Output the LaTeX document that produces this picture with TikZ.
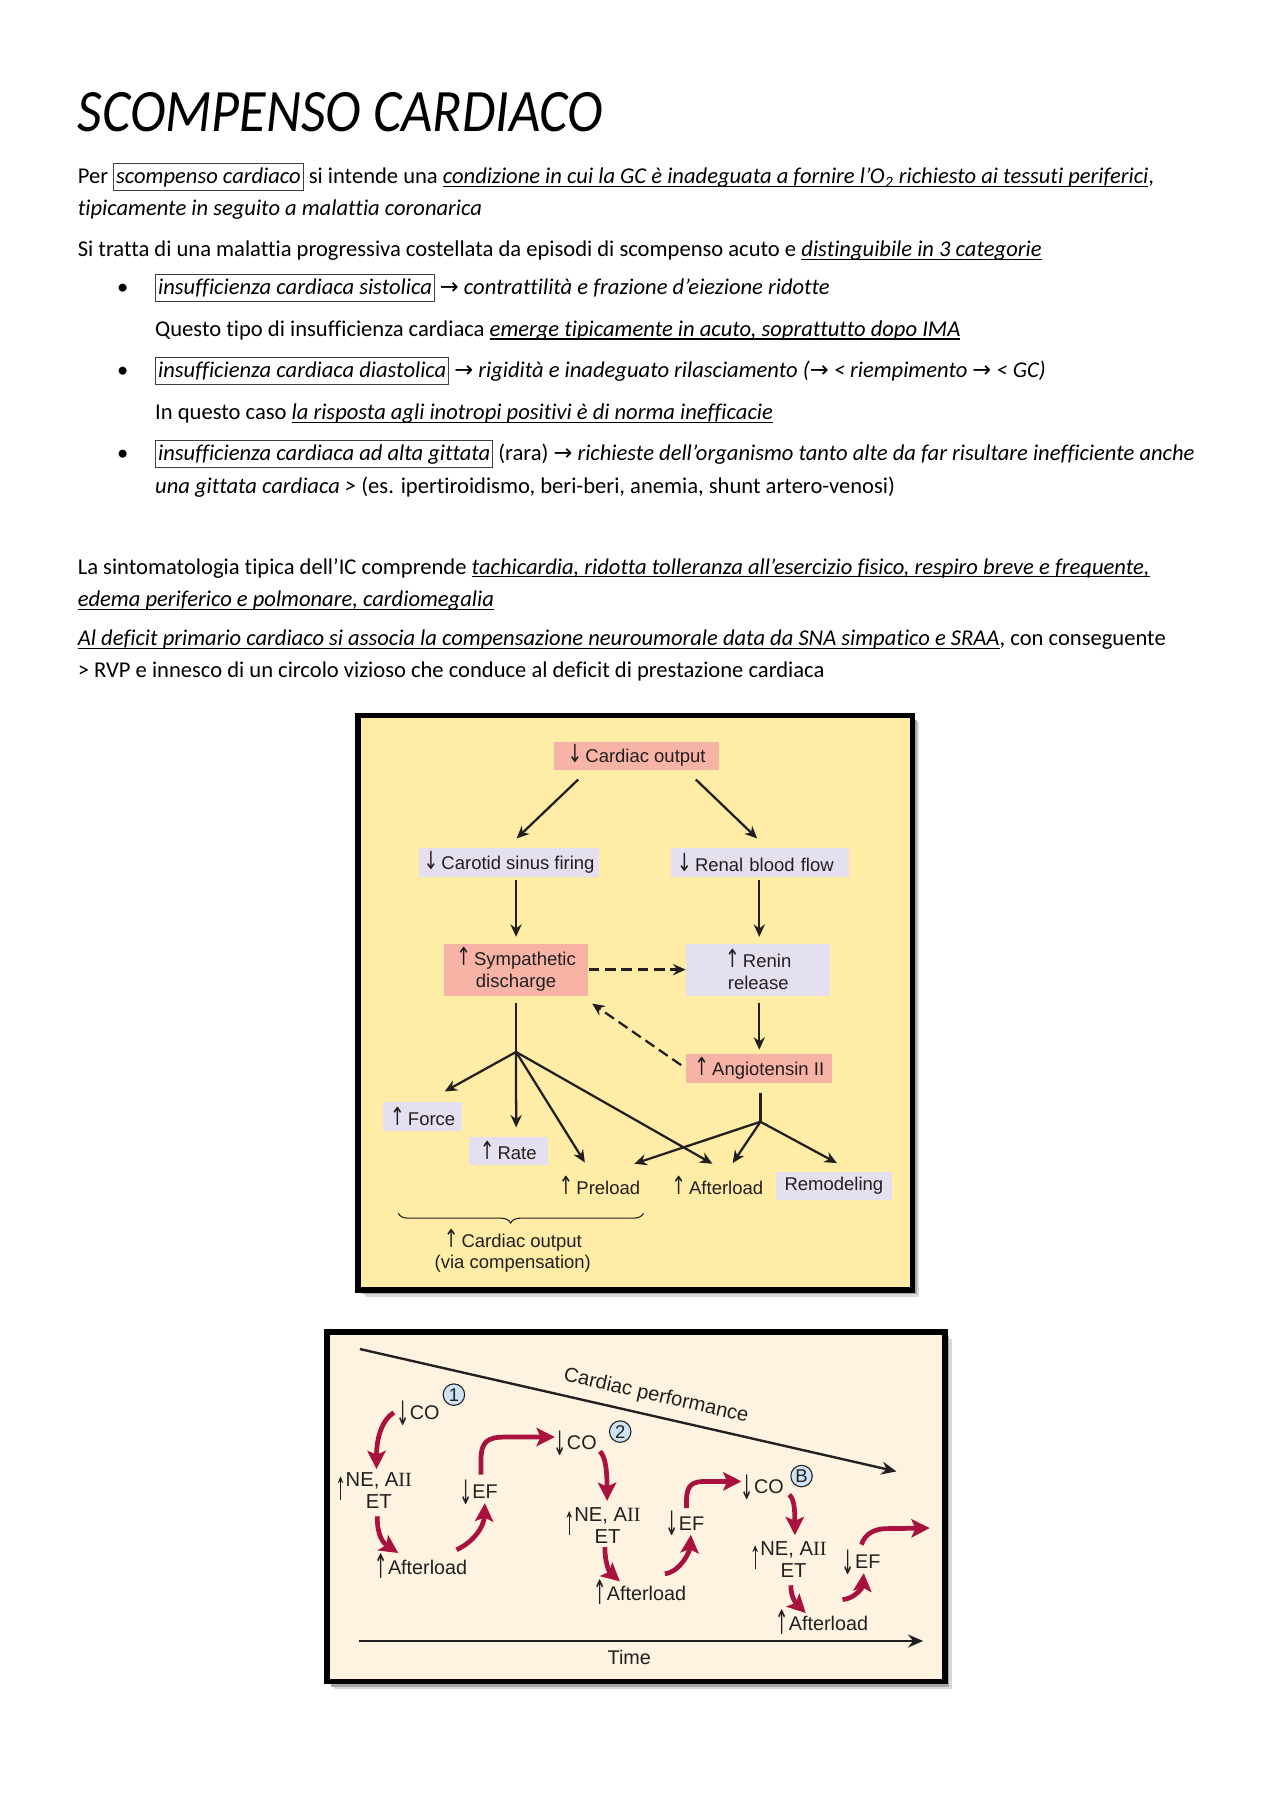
\documentclass[tikz,border=0pt]{standalone}
\usepackage{fontspec}
\setmainfont{Carlito}[Ligatures=NoCommon]
\newfontfamily\titlefont{Carlito}[FakeStretch=0.9]
\newfontfamily\hv{Liberation Sans}
\newfontfamily\tnr{Liberation Serif}
\newfontfamily\symfont{DejaVu Sans}
\usetikzlibrary{arrows.meta, calc, decorations.pathreplacing}

\definecolor{ink}{HTML}{231F20}
\definecolor{paleyellow}{HTML}{FFECA6}
\definecolor{pinkfill}{HTML}{F7B3A6}
\definecolor{lilacfill}{HTML}{E5E0EF}
\definecolor{cream}{HTML}{FEF3E1}
\definecolor{wine}{HTML}{A9123F}
\definecolor{bubble}{HTML}{CDE3F4}
\definecolor{framegray}{HTML}{404040}

% underline at a fixed depth, as a word processor does
\newsavebox\ulbox
\newcommand{\ul}[1]{\sbox\ulbox{#1}\rlap{\rule[-1.6pt]{\wd\ulbox}{0.5pt}}\usebox\ulbox}
\newcommand{\bx}[1]{{\fboxsep=0.9pt\fboxrule=0.45pt\color{framegray}\fbox{\color{black}\rule[-2pt]{0pt}{10.2pt}#1}}}
\newcommand{\arw}{{\symfont →}}
% arrows of the flow chart, a little taller than the glyph
\newcommand{\upa}{{\symfont\scalebox{0.95}[1.35]{↑}}}
\newcommand{\dna}{{\symfont\scalebox{0.95}[1.35]{↓}}}
% thin tall arrows of the loop picture
\newcommand{\upt}{{\symfont\raisebox{-2pt}{\scalebox{0.8}[1.7]{↑}}}}
\newcommand{\dnt}{{\symfont\raisebox{-2.6pt}{\scalebox{0.8}[1.7]{↓}}}}

\begin{document}
\begin{tikzpicture}[x=0.5373pt, y=-0.5373pt,
  txt/.style={anchor=base west, inner sep=0pt, font=\fontsize{10.5}{13}\selectfont},
  flow/.style={inner sep=0pt, text=ink, align=center, font=\hv\fontsize{8.6}{10.2}\selectfont},
  pinkbox/.style={flow, fill=pinkfill, minimum height=13.2pt},
  lilacbox/.style={flow, fill=lilacfill, minimum height=13.2pt},
  blk/.style={draw=ink, line width=1.05pt, -{Stealth[length=5.8pt, width=5.2pt]}},
  dsh/.style={blk, dash pattern=on 5pt off 2.6pt},
  word/.style={inner sep=0pt, anchor=base, text=ink, font=\hv\fontsize{9.2}{10}\selectfont},
  twoline/.style={inner sep=0pt, text=ink, align=center, font=\hv\fontsize{9.4}{10}\selectfont},
  bub/.style={circle, draw=ink, line width=0.5pt, fill=bubble, minimum size=10pt, inner sep=0pt, text=ink, font=\hv\fontsize{8.6}{8.6}\selectfont},
  redarr/.style={draw=wine, line width=2.2pt, -{Stealth[length=8.5pt, width=8.5pt, inset=1.8pt]}},
  axisarr/.style={draw=ink, line width=1.1pt, -{Stealth[length=7pt, width=6pt]}},
  tick/.style={draw=ink, line width=0.55pt, -{Stealth[length=3.2pt, width=2.6pt]}}]

\useasboundingbox (0,0) rectangle (1108,1568);
\fill[white] (0,0) rectangle (1108,1568);

% ---- text of the page
\node[txt] (title) at (67,114) {\fontsize{28}{30}\titlefont\itshape SCOMPENSO CARDIACO};
\node[txt] (l1) at (67,159) {Per \bx{\textit{scompenso cardiaco}} si intende una \ul{\textit{condizione in cui la GC è inadeguata a fornire l’O\textsubscript{2} richiesto ai tessuti periferici}},};
\node[txt] (l2) at (67,187) {\textit{tipicamente in seguito a malattia coronarica}};
\node[txt] (l3) at (67,222) {Si tratta di una malattia progressiva costellata da episodi di scompenso acuto e \ul{\textit{distinguibile in 3 categorie}}};
\node[txt] (d1) at (101,255) {•};
\node[txt] (b1) at (134,255) {\bx{\textit{insufficienza cardiaca sistolica}} \textit{\arw\ contrattilità e frazione d’eiezione ridotte}};
\node[txt] (q1) at (134,291) {Questo tipo di insufficienza cardiaca \ul{\textit{emerge tipicamente in acuto, soprattutto dopo IMA}}};
\node[txt] (d2) at (101,327) {•};
\node[txt] (b2) at (134,327) {\bx{\textit{insufficienza cardiaca diastolica}} \textit{\arw\ rigidità e inadeguato rilasciamento (\arw\ < riempimento \arw\ < GC)}};
\node[txt] (q2) at (134,363) {In questo caso \ul{\textit{la risposta agli inotropi positivi è di norma inefficacie}}};
\node[txt] (d3) at (101,399) {•};
\node[txt] (b3) at (134,399) {\bx{\textit{insufficienza cardiaca ad alta gittata}} (rara) \arw\ \textit{richieste dell’organismo tanto alte da far risultare inefficiente anche}};
\node[txt] (b3b) at (134,427) {\textit{una gittata cardiaca >} (es. ipertiroidismo, beri-beri, anemia, shunt artero-venosi)};
\node[txt] (s1) at (67,497) {La sintomatologia tipica dell’IC comprende \ul{\textit{tachicardia, ridotta tolleranza all’esercizio fisico, respiro breve e frequente,}}};
\node[txt] (s2) at (67,525) {\ul{\textit{edema periferico e polmonare, cardiomegalia}}};
\node[txt] (s3) at (67,559) {\ul{\textit{Al deficit primario cardiaco si associa la compensazione neuroumorale data da SNA simpatico e SRAA}}, con conseguente};
\node[txt] (s4) at (67,587) {> RVP e innesco di un circolo vizioso che conduce al deficit di prestazione cardiaca};

% ---- first figure: frame
\fill[black!15] (315.8,625.4) rectangle (796.1,1122.7);
\fill[black!35] (313.8,623.4) rectangle (794.1,1120.7);
\draw[line width=2.6pt, fill=paleyellow] (309.8,619.4) rectangle (790.1,1116.7);

\node[pinkbox, minimum width=76.8pt] (co) at (551.2,654.3) {\dna\,Cardiac output};
\node[lilacbox, minimum width=83.5pt] (cs) at (440.8,746.6) {\dna\,Carotid sinus firing};
\node[lilacbox, text width=77pt, align=left, inner xsep=3pt] (rb) at (658,746.6) {\dna\,Renal blood flow};
\node[pinkbox, minimum width=67.2pt, minimum height=24.2pt] (sd) at (446.8,839.5) {\upa\,Sympathetic\\discharge};
\node[lilacbox, minimum width=67.2pt, minimum height=24.2pt] (rr) at (656.5,839.5) {\upa\,Renin\\release};
\node[pinkbox, minimum width=68pt, minimum height=13.4pt] (an) at (657.4,925.2) {\upa\,Angiotensin II};
\node[lilacbox, minimum width=36.8pt] (fo) at (366,966.8) {\upa\,Force};
\node[lilacbox, minimum width=36.8pt] (ra) at (440,996.5) {\upa\,Rate};
\node[flow] (pr) at (519,1026) {\upa\,Preload};
\node[flow] (af) at (621,1026) {\upa\,Afterload};
\node[lilacbox, minimum width=54.3pt] (re) at (722,1026.7) {Remodeling};
\node[flow, font=\hv\fontsize{8.6}{9.7}\selectfont] (cc) at (444,1083) {\upa\,Cardiac output\\(via compensation)};

\coordinate (b1) at ($(sd.south)+(0,48.4)$);
\coordinate (b2) at ($(an.south)+(1,33.2)$);

\draw[blk] ($(co.south)+(-50.6,8)$) -- ($(cs.north)+(6.5,-8)$);
\draw[blk] ($(co.south)+(51.3,8)$) -- ($(rb.north)+(-2.4,-8)$);
\draw[blk] ($(cs.south -| sd.north)+(0,3)$) -- ($(sd.north)+(0,-5.5)$);
\draw[blk] ($(rb.south -| an.north)+(0,3)$) -- ($(rr.north -| an.north)+(0,-5.5)$);
\draw[dsh] (sd.east) -- (rr.west);
\draw[blk] ($(rr.south -| an.north)+(0,6)$) -- ($(an.north)+(0,-3.5)$);
\draw[dsh] ($(an.west)+(-4,-3)$) -- ($(sd.south east)+(3,6.5)$);
\draw[draw=ink, line width=1.05pt] ($(sd.south)+(0,6)$) -- (b1);
\draw[blk] (b1) -- ($(fo)+(19,-21.8)$);
\draw[blk] (b1) -- ($(ra)+(6.9,-20.3)$);
\draw[blk] (b1) -- ($(pr)+(-12.6,-19.5)$);
\draw[blk] (b1) -- ($(af)+(-4.2,-18.4)$);
\draw[draw=ink, line width=1.05pt] ($(an.south)+(1,8)$) -- (b2);
\draw[blk] (b2) -- ($(pr)+(30.2,-18.4)$);
\draw[blk] (b2) -- ($(af)+(13.4,-19)$);
\draw[blk] (b2) -- ($(re)+(2.6,-19.7)$);
\draw[ink, line width=0.5pt, decorate, decoration={brace, mirror, amplitude=4.5pt, aspect=0.458}] (344.8,1050.5) -- (557.2,1050.5);

% ---- second figure: frame
\fill[black!15] (288.9,1159.1) rectangle (824,1462.5);
\fill[black!35] (286.9,1157.1) rectangle (822,1460.5);
\draw[line width=2.6pt, fill=cream] (282.9,1153.1) rectangle (818,1455.7);

\coordinate (pstart) at (311.6,1168);
\coordinate (pend) at (776.2,1274);
\coordinate (tstart) at (311,1420.8);
\coordinate (tend) at (799.3,1420.8);
\draw[axisarr] (pstart) -- (pend);
\draw[axisarr, line width=1.35pt] (tstart) -- (tend);
\node[word, anchor=center, rotate=-12.85, font=\hv\fontsize{9.4}{10}\selectfont] (cp) at (568,1209) {Cardiac performance};
\node[word] (tm) at (544.9,1440.8) {Time};

% stage 1
\node[word] (co1) at (362,1229) {\dnt CO};
\node[bub] (n1) at (393,1207.5) {1};
\node[twoline] (ne1) at (328,1290.7) {NE, A{\tnr II}\\ET};
\node[word] (af1) at (364.5,1363) {\upt Afterload};
\node[word] (ef1) at (414.2,1297.8) {\dnt EF};
% stage 2
\node[word] (co2) at (498,1255.4) {\dnt CO};
\node[bub] (n2) at (537,1239.5) {2};
\node[twoline] (ne2) at (526,1320.7) {NE, A{\tnr II}\\ET};
\node[word] (af2) at (554,1385.3) {\upt Afterload};
\node[word] (ef2) at (593,1324.7) {\dnt EF};
% stage 3
\node[word] (co3) at (660,1293.5) {\dnt CO};
\node[bub] (n3) at (694,1278) {B};
\node[twoline] (ne3) at (687,1350.4) {NE, A{\tnr II}\\ET};
\node[word] (af3) at (711.6,1411.8) {\upt Afterload};
\node[word] (ef3) at (745.6,1358.4) {\dnt EF};
\coordinate (out) at (805,1323);

\foreach \n in {ne1,ne2,ne3}
  \draw[tick] ($(\n.west)+(-4.1,8)$) -- ++(0,-20.5);

\draw[redarr] ($(co1.base)+(-21,-6)$) .. controls +(-10,6) and +(0,-27.5) .. ($(ne1.north)+(-2,-3)$);
\draw[redarr] ($(ne1.south)+(-1.4,6.4)$) .. controls +(0,17.6) and +(-12.8,-8.6) .. ($(af1.base)+(-19.7,-18.4)$);
\draw[redarr] ($(af1.base)+(30.8,-21.2)$) .. controls +(14.7,-6.8) and +(-0.8,20.6) .. ($(ef1.base)+(5.6,3.6)$);
\draw[redarr] ($(ef1.base)+(2.2,-21)$) -- ++(0,-12) .. controls +(0,-17) and +(-16,0) .. ++(21.6,-20.6) -- ($(co2.base)+(-17.6,-11.2)$);
\draw[redarr] ($(co2.base)+(21.4,1.2)$) .. controls +(4.6,4.4) and +(-0.2,-28) .. ($(ne2.north)+(-0.3,-5.5)$);
\draw[redarr] ($(ne2.south)+(-2.3,3)$) .. controls +(0,14) and +(-9,-8) .. ($(af2.base)+(-17.3,-16.1)$);
\draw[redarr] ($(af2.base)+(21.7,-22.7)$) .. controls +(14,-2) and +(-1,14) .. ($(ef2.base)+(5.2,4.1)$);
\draw[redarr] ($(ef2.base)+(1.4,-19)$) -- ++(0,-6) .. controls +(0,-15) and +(-12,0) .. ++(17.6,-17.1) -- ($(co3.base)+(-18,-10.9)$);
\draw[redarr] ($(co3.base)+(23.3,0.6)$) .. controls +(4.5,4) and +(0,-22) .. ($(ne3.north)+(1.2,-5.5)$);
\draw[redarr] ($(ne3.south)+(-2.3,6.5)$) .. controls +(0,12) and +(-7,-7) .. ($(af3.base)+(-13.9,-15.2)$);
\draw[redarr] ($(af3.base)+(17.9,-26.8)$) .. controls +(11,-1) and +(-1,12) .. ($(ef3.base)+(2.3,3.6)$);
\draw[redarr] ($(ef3.base)+(0.3,-21)$) .. controls +(3,-10) and +(-10,0) .. ++(22.1,-13.9) -- (out);
\end{tikzpicture}
\end{document}
